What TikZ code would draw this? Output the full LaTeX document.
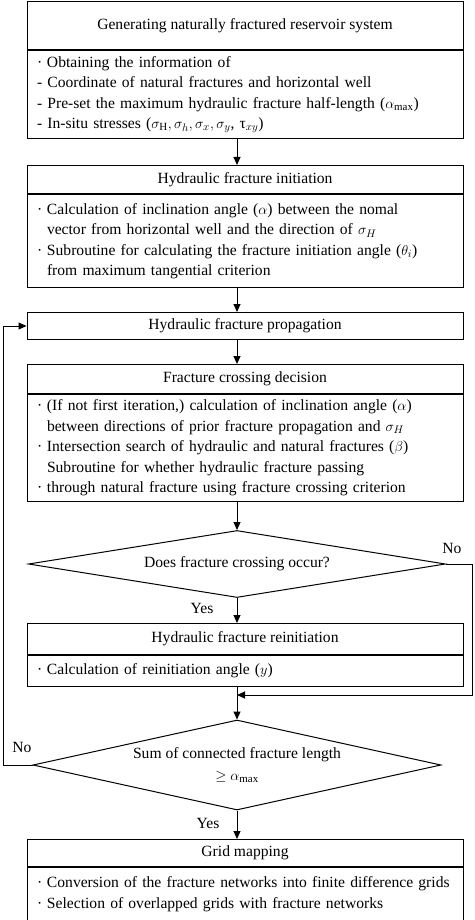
\documentclass[tikz,border=0pt]{standalone}
\usepackage{fontspec}
\setmainfont{Liberation Serif}
\usetikzlibrary{shapes.geometric,arrows.meta}
\newcommand\bul{\makebox[10pt][l]{·}}
\newcommand\ind{\hspace*{10pt}}
\tikzset{
  txt/.style={font=\fontsize{15.6}{20.5}\selectfont},
  hd/.style={txt, draw, line width=1pt, minimum width=436pt, inner sep=0pt, anchor=north},
  bd/.style={txt, draw, line width=1pt, text width=416pt, inner xsep=10pt, inner ysep=0pt, anchor=north, align=left},
  dec/.style={txt, draw, diamond, line width=1pt, inner sep=0pt, align=center},
  arr/.style={-{Triangle[length=8pt,width=7pt]}, line width=1pt},
  ln/.style={line width=1pt},
  lab/.style={txt, inner sep=0pt}
}
\begin{document}
\begin{tikzpicture}[x=1pt,y=-1pt]
\useasboundingbox (0,0) rectangle (474,920);
\coordinate (ax) at (237,0);
% box 1
\node[hd, minimum height=48pt] (t1) at (245,1) {Generating naturally fractured reservoir system};
\node[bd, minimum height=88pt] (b1) at (t1.south) {\bul Obtaining the information of\\
- Coordinate of natural fractures and horizontal well\\
- Pre-set the maximum hydraulic fracture half-length ($\alpha_{\max}$)\\
- In-situ stresses ($\sigma_{\mathrm{H}}, \sigma_h, \sigma_x, \sigma_y$, τ$_{xy}$)};
% box 2
\node[hd, minimum height=28pt] (t2) at (245,165) {Hydraulic fracture initiation};
\node[bd, minimum height=93pt] (b2) at (t2.south) {\bul Calculation of inclination angle ($\alpha$) between the nomal\\
\ind vector from horizontal well and the direction of $\sigma_H$\\
\bul Subroutine for calculating the fracture initiation angle ($\theta_i$)\\
\ind from maximum tangential criterion};
% box 3
\node[hd, minimum height=27pt] (t3) at (245,312) {Hydraulic fracture propagation};
% box 4
\node[hd, minimum height=29pt] (t4) at (245,364) {Fracture crossing decision};
\node[bd, minimum height=107pt] (b4) at (t4.south) {\bul (If not first iteration,) calculation of inclination angle ($\alpha$)\\
\ind between directions of prior fracture propagation and $\sigma_H$\\
\bul Intersection search of hydraulic and natural fractures ($\beta$)\\
\ind Subroutine for whether hydraulic fracture passing\\
\bul through natural fracture using fracture crossing criterion};
% diamond 1
\node[dec, aspect=6.22, minimum width=417pt, minimum height=67pt] (d1) at (237,564) {Does fracture crossing occur?};
% box 5
\node[hd, minimum height=31pt] (t5) at (245,623) {Hydraulic fracture reinitiation};
\node[bd, minimum height=31pt] (b5) at (t5.south) {\bul Calculation of reinitiation angle ($y$)};
% diamond 2
\node[dec, aspect=4.53, minimum width=408pt, minimum height=90pt] (d2) at (237,765) {Sum of connected fracture length\\[1pt] $\geq \alpha_{\max}$};
% box 6
\node[hd, minimum height=27pt] (t6) at (245,839) {Grid mapping};
\node[bd, minimum height=53pt] (b6) at (t6.south) {\mbox{\bul Conversion of the fracture networks into finite difference grids}\\
\bul Selection of overlapped grids with fracture networks};
% connectors
\draw[arr] (b1.south -| ax) -- (t2.north -| ax);
\draw[arr] (b2.south -| ax) -- (t3.north -| ax);
\draw[arr] (t3.south -| ax) -- (t4.north -| ax);
\draw[arr] (b4.south -| ax) -- (d1.north);
\draw[arr] (d1.south) -- (t5.north -| ax);
\draw[arr] (b5.south -| ax) -- (d2.north);
\draw[arr] (d2.south) -- (t6.north -| ax);
\coordinate (rc) at (472,695);
\coordinate (lc) at (3,326);
\draw[arr] (d1.east) -| (rc) -- (rc -| ax);
\draw[arr] (d2.west) -| (lc) -- (t3.west);
% labels
\node[lab] (n1) at (452,548) {No};
\node[lab] (y1) at (202,608) {Yes};
\node[lab] (n2) at (22,747) {No};
\node[lab] (y2) at (208,823) {Yes};
\end{tikzpicture}
\end{document}
